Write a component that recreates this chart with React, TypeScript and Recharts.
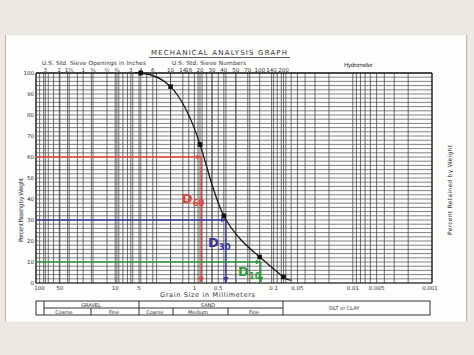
import React from 'react';
import { ComposedChart, Line, Scatter, XAxis, YAxis, ReferenceLine } from 'recharts';

// ─── Data ─────────────────────────────────────────────────────────────────────

// grading curve: grain size (mm) -> percent passing
const curveSize = [5.5, 4.75, 2.0, 0.85, 0.425, 0.15, 0.075, 0.06];
const curvePassing = [100, 100, 93.5, 66, 32, 12.4, 2.9, 1.4];

// sieve results (black squares)
const sieveSize = [4.75, 2.0, 0.85, 0.425, 0.15, 0.075];
const sievePassing = [100, 93.5, 66, 32, 12.4, 2.9];

// effective sizes D60 / D30 / D10
const dNames = ['60', '30', '10'];
const dPercent = [60, 30, 10];
const dSize = [0.82, 0.4, 0.145];
const dColors = ['#e4453a', '#36369c', '#2f9a3a'];
// where the D labels sit (mm, %)
const dLabelSize = [1.44, 0.673, 0.281];
const dLabelPercent = [38, 17.1, 3.3];

// top axis: sieve openings in inches, then US std sieve numbers (as mm)
const topTickSize = [76.2, 50.8, 38.1, 25.4, 19.05, 12.7, 9.525, 6.35, 4.75, 3.35, 2.0, 1.4, 1.18, 0.85, 0.6, 0.425, 0.3, 0.212, 0.15, 0.106, 0.075];
const topTickLabel = ['3', '2', '1½', '1', '¾', '½', '⅜', '3', '4', '6', '10', '14', '16', '20', '30', '40', '50', '70', '100', '140', '200'];

const bottomTicks = [100, 50, 10, 5, 1, 0.5, 0.1, 0.05, 0.01, 0.005, 0.001];
const percentTicks = [0, 10, 20, 30, 40, 50, 60, 70, 80, 90, 100];

// printed grid of the form
const decadeStarts = [0.001, 0.01, 0.1, 1, 10];
const decadeSteps = [1, 2, 3, 4, 5, 6, 7, 8, 9];
const gridX = decadeStarts
    .flatMap((b) => decadeSteps.map((m) => Number((b * m).toPrecision(3))))
    .concat([100], topTickSize);
const gridY = Array.from({ length: 51 }, (_, i) => i * 2);

// ─── Helpers ─────────────────────────────────────────────────────────────────

const FONT = '"DejaVu Sans", sans-serif';
const INK = '#333';

const curveData = curveSize.map((d, i) => ({ d, p: curvePassing[i] }));
const sieveData = sieveSize.map((d, i) => ({ d, p: sievePassing[i] }));

const dPaths = dSize.map((s, i) => [
    { d: 100, p: dPercent[i] },
    { d: s, p: dPercent[i], arrow: 'right' },
    { d: s, p: 0, arrow: 'down' },
]);

const dLabelData = dNames.map((n, i) => ({ d: dLabelSize[i], p: dLabelPercent[i], name: n, color: dColors[i] }));

const topLabelOf = (v: number) => {
    const i = topTickSize.indexOf(v);
    return i >= 0 ? topTickLabel[i] : '';
};

// bottom labels: the end ones are pulled inside the frame, like on the form
const BottomTick = (props: any) => {
    const { x, y, payload } = props;
    const v = payload.value;
    const dx = v === 100 ? 3.5 : v === 0.001 ? -2 : 0;
    return (
        <text x={x + dx} y={y + 6} textAnchor="middle" fontSize={5.5} fill={INK} fontFamily={FONT}>
            {String(v)}
        </text>
    );
};

const arrowDot = (color: string) => (props: any) => {
    const { cx, cy, payload, index } = props;
    if (payload?.arrow === 'down') {
        return <path key={`a${index}`} d={`M${cx - 2.5},${cy - 6}L${cx + 2.5},${cy - 6}L${cx},${cy}Z`} fill={color} />;
    }
    if (payload?.arrow === 'right') {
        return <path key={`a${index}`} d={`M${cx - 5},${cy - 2.2}L${cx - 5},${cy + 2.2}L${cx},${cy}Z`} fill={color} />;
    }
    return <g key={`a${index}`} />;
};

const squareShape = (props: any) => (
    <rect x={props.cx - 2.3} y={props.cy - 2.3} width={4.6} height={4.6} fill="#111" />
);

const dLabelShape = (props: any) => (
    <text x={props.cx} y={props.cy} fill={props.payload.color} fontFamily={FONT} fontWeight="bold" fontSize={13}>
        D<tspan fontSize={8.5} dy={3}>{props.payload.name}</tspan>
    </text>
);

// ─── Component ────────────────────────────────────────────────────────────────

export default function App() {
    const tick = { fontSize: 5.5, fill: INK, fontFamily: FONT };
    return (
        <div style={{ position: 'absolute', left: 0, top: 0, width: 474, height: 355, background: '#ece9e2', overflow: 'hidden' }}>
            <div style={{ position: 'absolute', left: 5, top: 35, width: 460, height: 287, background: '#fdfdfc', borderLeft: '1.5px solid #e2a195', boxShadow: '1px 0 1px #bbb' }} />
            <div style={{ position: 'absolute', left: 0, top: 0 }}>
                <ComposedChart width={474} height={355} margin={{ top: 63, right: 28, bottom: 62, left: 22 }}>
                    <XAxis
                        xAxisId={0}
                        type="number"
                        dataKey="d"
                        scale="log"
                        domain={[0.001, 100]}
                        reversed
                        allowDataOverflow
                        ticks={bottomTicks}
                        interval={0}
                        height={10}
                        tick={<BottomTick />}
                        tickSize={0}
                        tickMargin={1}
                        axisLine={false}
                    />
                    <XAxis
                        xAxisId="top"
                        orientation="top"
                        type="number"
                        dataKey="d"
                        scale="log"
                        domain={[0.001, 100]}
                        reversed
                        allowDataOverflow
                        ticks={topTickSize}
                        interval={0}
                        tickFormatter={topLabelOf}
                        height={10}
                        tick={tick}
                        tickSize={0}
                        tickMargin={1}
                        axisLine={false}
                    />
                    <YAxis
                        yAxisId={0}
                        type="number"
                        dataKey="p"
                        domain={[0, 100]}
                        ticks={percentTicks}
                        interval={0}
                        width={14}
                        tick={tick}
                        tickSize={0}
                        tickMargin={2}
                        axisLine={false}
                    />
                    <YAxis
                        yAxisId="r"
                        orientation="right"
                        type="number"
                        domain={[0, 100]}
                        reversed
                        ticks={percentTicks}
                        interval={0}
                        width={14}
                        tick={{ ...tick, textAnchor: 'start' }}
                        tickSize={0}
                        tickMargin={2}
                        axisLine={false}
                    />

                    {gridX.map((v, i) => (
                        <ReferenceLine key={`gx${i}`} x={v} stroke="#4a4a4a" strokeWidth={0.8} />
                    ))}
                    {gridY.map((v) => (
                        <ReferenceLine key={`gy${v}`} y={v} stroke="#4a4a4a" strokeWidth={0.7} />
                    ))}
                    <ReferenceLine x={100} stroke="#222" strokeWidth={1.2} />
                    <ReferenceLine x={0.001} stroke="#222" strokeWidth={1.2} />
                    <ReferenceLine y={0} stroke="#222" strokeWidth={1.2} />
                    <ReferenceLine y={100} stroke="#222" strokeWidth={1.4} />

                    {dPaths.map((path, i) => (
                        <Line
                            key={`dp${i}`}
                            data={path}
                            dataKey="p"
                            type="linear"
                            stroke={dColors[i]}
                            strokeWidth={1.3}
                            dot={arrowDot(dColors[i])}
                            activeDot={false}
                            isAnimationActive={false}
                        />
                    ))}

                    <Line
                        data={curveData}
                        dataKey="p"
                        type="natural"
                        stroke="#1a1a1a"
                        strokeWidth={1.3}
                        dot={false}
                        activeDot={false}
                        isAnimationActive={false}
                    />
                    <Scatter data={sieveData} dataKey="p" shape={squareShape} isAnimationActive={false} />
                    <Scatter data={dLabelData} dataKey="p" shape={dLabelShape} isAnimationActive={false} />
                </ComposedChart>
            </div>

            <svg width={474} height={355} style={{ position: 'absolute', left: 0, top: 0, pointerEvents: 'none' }} fontFamily={FONT} fill={INK}>
                <text x={151} y={55} fontSize={7} textLength={136} lengthAdjust="spacing">MECHANICAL ANALYSIS GRAPH</text>
                <line x1={149} x2={290} y1={57.5} y2={57.5} stroke={INK} strokeWidth={0.8} />
                <text x={42} y={65} fontSize={5.8} textLength={104} lengthAdjust="spacing">U.S. Std. Sieve Openings in Inches</text>
                <text x={172} y={65} fontSize={5.8} textLength={74} lengthAdjust="spacing">U.S. Std. Sieve Numbers</text>
                <text x={344} y={67} fontSize={5.8} textLength={29} lengthAdjust="spacing">Hydrometer</text>
                <text x={160} y={297} fontSize={6.5} textLength={95} lengthAdjust="spacing">Grain Size in Millimeters</text>
                <text x={0} y={0} fontSize={6} textAnchor="middle" transform="translate(23,210) rotate(-90)" textLength={64} lengthAdjust="spacing">Percent Passing by Weight</text>
                <text x={0} y={0} fontSize={6} textAnchor="middle" transform="translate(452,190) rotate(-90)" textLength={90} lengthAdjust="spacing">Percent Retained by Weight</text>

                <g stroke={INK} strokeWidth={1} fill="none">
                    <rect x={36} y={301} width={394} height={14} />
                    <line x1={44} x2={44} y1={301} y2={315} />
                    <line x1={44} x2={283} y1={308} y2={308} />
                    <line x1={139} x2={139} y1={301} y2={315} />
                    <line x1={283} x2={283} y1={301} y2={315} />
                    <line x1={91} x2={91} y1={308} y2={315} />
                    <line x1={173} x2={173} y1={308} y2={315} />
                    <line x1={228} x2={228} y1={308} y2={315} />
                </g>
                <g fontSize={5} textAnchor="middle">
                    <text x={91} y={306.5}>GRAVEL</text>
                    <text x={208} y={306.5}>SAND</text>
                    <text x={64} y={313.5}>Coarse</text>
                    <text x={114} y={313.5}>Fine</text>
                    <text x={155} y={313.5}>Coarse</text>
                    <text x={198} y={313.5}>Medium</text>
                    <text x={254} y={313.5}>Fine</text>
                    <text x={344} y={310}>SILT or CLAY</text>
                </g>
            </svg>
        </div>
    );
}
